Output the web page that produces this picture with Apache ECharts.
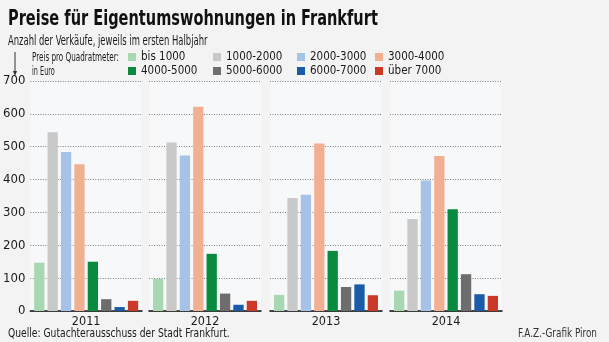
<!DOCTYPE html>
<html><head><meta charset="utf-8">
<script src="https://cdn.jsdelivr.net/npm/echarts@6/dist/echarts.min.js"></script>
<style>html,body{margin:0;padding:0;background:#f3f3f3;}#c{width:609px;height:342px;}</style>
</head><body><div id="c"></div>
<script>
const years = ['2011','2012','2013','2014'];
const priceClasses = ['bis 1000','1000-2000','2000-3000','3000-4000','4000-5000','5000-6000','6000-7000','über 7000'];
const v_bis1000   = [147, 98, 49, 62];
const v_1000_2000 = [544, 513, 344, 280];
const v_2000_3000 = [484, 473, 354, 397];
const v_3000_4000 = [447, 622, 510, 472];
const v_4000_5000 = [150, 174, 183, 310];
const v_5000_6000 = [36, 53, 73, 112];
const v_6000_7000 = [12, 19, 81, 51];
const v_ueber7000 = [31, 31, 48, 46];
const yTicks = [0,100,200,300,400,500,600,700];

const seriesValues = [v_bis1000,v_1000_2000,v_2000_3000,v_3000_4000,v_4000_5000,v_5000_6000,v_6000_7000,v_ueber7000];
const colors = ['#a8d7b1','#c9c9c9','#a6c2e6','#f1b092','#088b3e','#6d6d6d','#1a5ba8','#cb3a28'];
const FONTNAME = 'Liberation Sans Narrow';
const FONT = '"Liberation Sans Narrow","DejaVu Sans Condensed",sans-serif';

// measure text to squeeze into the reference's condensed widths
const mctx = document.createElement('canvas').getContext('2d');
function scaleFor(txt, size, weight, target){
  mctx.font = weight + ' ' + size + 'px "' + FONTNAME + '", sans-serif';
  const w = mctx.measureText(txt).width;
  return Math.min(1, target / w);
}
function txt(text, x, y, size, weight, target, color){
  const s = scaleFor(text, size, weight, target);
  return {type:'text', x:x, y:y, scaleX:s, scaleY:1, originX:0, originY:0,
    style:{text:text, x:0, y:0, fontFamily:FONT, fontSize:size, fontWeight:weight,
      fill:color||'#1a1a1a', textVerticalAlign:'middle', textAlign:'left'}};
}

const gridLefts = [30,149,270,390];
const grids=[], xAxes=[], yAxes=[], series=[], legends=[];
years.forEach((y,i)=>{
  grids.push({left:gridLefts[i], width:112, top:81, height:230, show:true, backgroundColor:'#f7f8fa', borderWidth:0});
  xAxes.push({type:'category', gridIndex:i, data:[y],
    axisLine:{lineStyle:{color:'#111',width:1.5}}, axisTick:{show:false},
    axisLabel:{color:'#1a1a1a', fontFamily:FONT, fontSize:12.5, margin:4}});
  yAxes.push({type:'value', gridIndex:i, min:0, max:700, interval:100,
    axisLine:{show:false}, axisTick:{show:false},
    axisLabel:{show:i===0, color:'#1a1a1a', fontFamily:FONT, fontSize:13, margin:5},
    splitLine:{lineStyle:{type:[1,1.5], color:'#808080', width:1}}});
  priceClasses.forEach((p,k)=>{
    series.push({type:'bar', name:p, xAxisIndex:i, yAxisIndex:i, data:[seriesValues[k][i]],
      barWidth:10.3, barGap:'30%', itemStyle:{color:colors[k]}, silent:true});
  });
});
const legX = [128,213,297,375];
const legY = [51,65];
priceClasses.forEach((p,k)=>{
  legends.push({data:[p], left:legX[k%4], top:legY[Math.floor(k/4)], itemWidth:8, itemHeight:8, icon:'rect',
    textStyle:{fontFamily:FONT, fontSize:11.5, color:'#1a1a1a', padding:[0,0,0,0]}, itemGap:4, padding:0, selectedMode:false});
});

const chart = echarts.init(document.getElementById('c'), null, {renderer:'canvas'});
chart.setOption({
  backgroundColor:'#f3f3f3',
  animation:false,
  graphic:[
    txt('Preise für Eigentumswohnungen in Frankfurt', 8, 20, 21, 'bold', 347, '#111'),
    txt('Anzahl der Verkäufe, jeweils im ersten Halbjahr', 8, 41, 13.5, 'normal', 196),
    txt('Preis pro Quadratmeter:', 32, 58, 12.5, 'normal', 86),
    txt('in Euro', 32, 72, 12.5, 'normal', 23),
    txt('Quelle: Gutachterausschuss der Stadt Frankfurt.', 8, 334, 13, 'normal', 219),
    txt('F.A.Z.-Grafik Piron', 518, 334, 13, 'normal', 81, '#333'),
    {type:'line', shape:{x1:15,y1:52,x2:15,y2:73}, style:{stroke:'#333', lineWidth:1}},
    {type:'polygon', shape:{points:[[13,71],[17,71],[15,76]]}, style:{fill:'#333'}}
  ],
  legend:legends,
  grid:grids, xAxis:xAxes, yAxis:yAxes, series:series
});
</script></body></html>
